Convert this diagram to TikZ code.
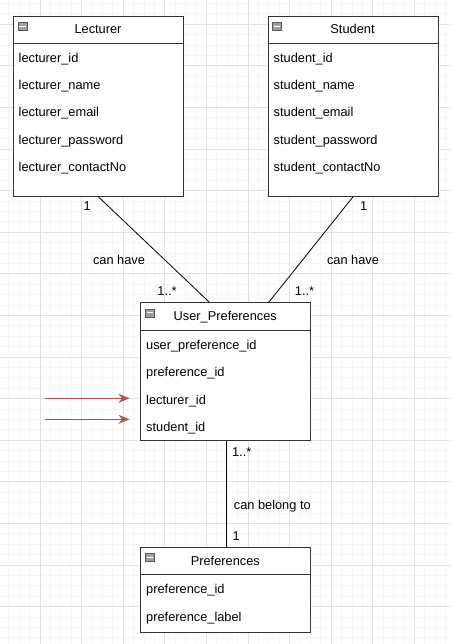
\documentclass[tikz,border=0pt]{standalone}
\usepackage{fontspec}
\setmainfont{Liberation Sans}
\usetikzlibrary{arrows.meta,calc}
\definecolor{gridmin}{HTML}{F6F6F6}
\definecolor{gridmaj}{HTML}{E2E2E2}
\definecolor{edge}{HTML}{333333}
\definecolor{fkred}{HTML}{B85450}
\definecolor{icongray}{HTML}{A0A0A0}
\begin{document}
\begin{tikzpicture}[x=1pt,y=-1pt,
  entity/.style={draw=edge, line width=0.9pt, fill=white, rectangle, inner sep=0pt, anchor=north west},
  txt/.style={font=\fontsize{12.8}{15}\selectfont, inner sep=0pt, text=black},
  field/.style={txt, anchor=base west},
  title/.style={txt, anchor=base},
  lbl/.style={txt, anchor=base},
  conn/.style={draw=black, line width=0.8pt},
  fk/.style={draw=fkred, line width=1pt, -{Stealth[length=11pt,width=9pt,inset=3.5pt]}},
  icon/.style={draw=gray!70!black, fill=icongray, line width=0.5pt, rectangle, minimum width=9pt, minimum height=8pt, inner sep=0pt, anchor=north west}
]
\useasboundingbox (0,0) rectangle (451,644);
\fill[white] (0,0) rectangle (451,644);
% grid
\foreach \i in {0,...,44} {
  \draw[gridmin, line width=0.5pt] ({-1.7+10.4*\i},0) -- ({-1.7+10.4*\i},644);
}
\foreach \i in {0,...,63} {
  \draw[gridmin, line width=0.5pt] (0,{3.3+10.4*\i}) -- (451,{3.3+10.4*\i});
}
\foreach \i in {0,...,11} {
  \draw[gridmaj, line width=0.5pt] ({-1.7+41.6*\i},0) -- ({-1.7+41.6*\i},644);
}
\foreach \i in {0,...,16} {
  \draw[gridmaj, line width=0.5pt] (0,{-17.5+41.6*\i}) -- (451,{-17.5+41.6*\i});
}

% Lecturer
\node[entity, minimum width=170pt, minimum height=180pt] (lec) at (13,16) {};
\draw[edge, line width=0.9pt] (13,43) -- (183,43);
\node[icon] (lecicon) at (17.5,22.5) {};
\draw[white, line width=0.9pt] ([xshift=1.5pt]lecicon.west) -- ([xshift=-1.5pt]lecicon.east);
\node[title] (lect) at (98,34) {Lecturer};
\node[field] (lec1) at (18.5,62.3) {lecturer\_id};
\node[field] (lec2) at (18.5,89.6) {lecturer\_name};
\node[field] (lec3) at (18.5,117) {lecturer\_email};
\node[field] (lec4) at (18.5,144.5) {lecturer\_password};
\node[field] (lec5) at (18.5,171.5) {lecturer\_contactNo};

% Student
\node[entity, minimum width=170pt, minimum height=180pt] (stu) at (267.5,16) {};
\draw[edge, line width=0.9pt] (267.5,43) -- (437.5,43);
\node[icon] (stuicon) at (272,22.5) {};
\draw[white, line width=0.9pt] ([xshift=1.5pt]stuicon.west) -- ([xshift=-1.5pt]stuicon.east);
\node[title] (stut) at (352.5,34) {Student};
\node[field] (stu1) at (273.5,62.3) {student\_id};
\node[field] (stu2) at (273.5,89.6) {student\_name};
\node[field] (stu3) at (273.5,117) {student\_email};
\node[field] (stu4) at (273.5,144.5) {student\_password};
\node[field] (stu5) at (273.5,171.5) {student\_contactNo};

% User_Preferences
\node[entity, minimum width=170pt, minimum height=138pt] (up) at (140.3,302.3) {};
\draw[edge, line width=0.9pt] (140.3,330.3) -- (310.3,330.3);
\node[icon] (upicon) at (145,308.5) {};
\draw[white, line width=0.9pt] ([xshift=1.5pt]upicon.west) -- ([xshift=-1.5pt]upicon.east);
\node[title] (upt) at (225.3,320.5) {User\_Preferences};
\node[field] (up1) at (146,349) {user\_preference\_id};
\node[field] (up2) at (146,376.3) {preference\_id};
\node[field] (up3) at (146,404) {lecturer\_id};
\node[field] (up4) at (146,431.6) {student\_id};

% Preferences
\node[entity, minimum width=170pt, minimum height=84.7pt] (pref) at (140.3,547) {};
\draw[edge, line width=0.9pt] (140.3,574.7) -- (310.3,574.7);
\node[icon] (preficon) at (145,553) {};
\draw[white, line width=0.9pt] ([xshift=1.5pt]preficon.west) -- ([xshift=-1.5pt]preficon.east);
\node[title] (preft) at (225.3,565) {Preferences};
\node[field] (pref1) at (146,593.3) {preference\_id};
\node[field] (pref2) at (146,621.3) {preference\_label};

% connectors
\draw[conn] (lec.south) -- ([xshift=-16.3pt]up.north);
\draw[conn] (stu.south) -- ([xshift=43pt]up.north);
\draw[conn] ([xshift=0.4pt]up.south) -- ([xshift=0.4pt]pref.north);

% labels
\node[lbl] (l1) at (87.3,210.5) {1};
\node[lbl] (l2) at (119,264.5) {can have};
\node[lbl] (l3) at (167,295.5) {1..*};
\node[lbl] (l4) at (363.7,210.5) {1};
\node[lbl] (l5) at (353,264.5) {can have};
\node[lbl] (l6) at (304.5,295) {1..*};
\node[lbl] (l7) at (241.7,456) {1..*};
\node[lbl] (l8) at (272.3,509) {can belong to};
\node[lbl] (l9) at (236.3,540.3) {1};

% foreign-key arrows
\coordinate (fa1) at (45,398.3);
\coordinate (fa2) at (45,419.3);
\draw[fk] (fa1) -- (129.5,398.3);
\draw[fk] (fa2) -- (129.5,419.3);
\end{tikzpicture}
\end{document}
